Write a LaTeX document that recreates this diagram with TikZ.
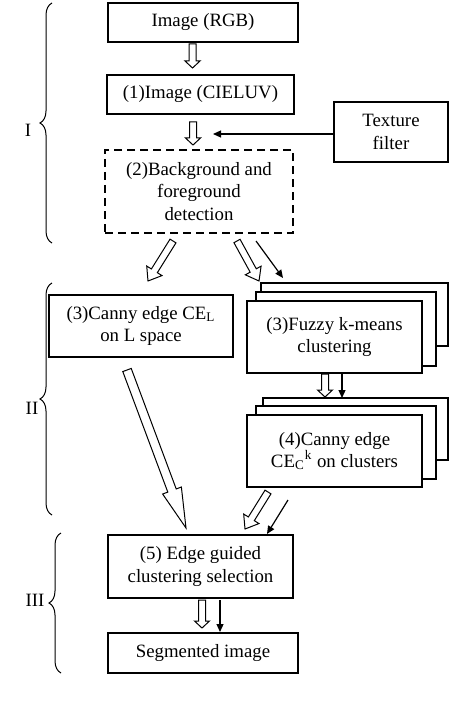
\documentclass[tikz,border=0pt]{standalone}
\usepackage{fontspec}
\setmainfont{Liberation Serif}
\usetikzlibrary{calc,arrows.meta,decorations.pathreplacing}

\tikzset{
    box/.style={draw, fill=white, line width=0.6pt, inner sep=0pt, align=center,
        font=\fontsize{9.4}{11.2}\selectfont},
    hollow/.style n args={3}{draw, fill=white, line width=0.5pt, to path={
        ($(\tikztostart)!#1!90:(\tikztotarget)$)
        -- ($(\tikztotarget)!#3!(\tikztostart)!#1!90:(\tikztotarget)$)
        -- ($(\tikztotarget)!#3!(\tikztostart)!#2!90:(\tikztotarget)$)
        -- (\tikztotarget)
        -- ($(\tikztotarget)!#3!(\tikztostart)!#2!-90:(\tikztotarget)$)
        -- ($(\tikztotarget)!#3!(\tikztostart)!#1!-90:(\tikztotarget)$)
        -- ($(\tikztostart)!#1!-90:(\tikztotarget)$) -- cycle}},
    pointer/.style={draw, line width=0.6pt, -{Triangle[length=4pt,width=3.5pt]}},
    bracket/.style={draw, line width=0.5pt, decorate, decoration={brace, amplitude=6pt}},
    stagelabel/.style={font=\fontsize{9.4}{11.2}\selectfont}
}

\begin{document}
\begin{tikzpicture}[x=0.5pt, y=-0.5pt]
            \useasboundingbox (0,0) rectangle (474,701);

            \coordinate (h1s) at (192.5,44);
            \coordinate (h1e) at (192.5,68);
            \coordinate (h2s) at (193,122);
            \coordinate (h2e) at (193,145);
            \coordinate (texend) at (213,134);
            \coordinate (d1s) at (173,241);
            \coordinate (d1e) at (148,281);
            \coordinate (d2s) at (237,241);
            \coordinate (d2e) at (259,281);
            \coordinate (t1s) at (256,241);
            \coordinate (t1e) at (283,278);
            \coordinate (ls) at (127,370);
            \coordinate (le) at (186,528);
            \coordinate (h3s) at (325,374);
            \coordinate (h3e) at (325,397);
            \coordinate (t3s) at (342,374);
            \coordinate (t3e) at (342,398);
            \coordinate (d3s) at (268,492);
            \coordinate (d3e) at (245,529);
            \coordinate (t4s) at (288,500);
            \coordinate (t4e) at (267,534);
            \coordinate (h4s) at (202,600);
            \coordinate (h4e) at (202,628);
            \coordinate (t5s) at (220,600);
            \coordinate (t5e) at (220,632);

            \node[box, minimum width=95pt, minimum height=19.5pt] (rgb) at (203,22.5) {Image (RGB)};
            \node[box, minimum width=93.5pt, minimum height=19.5pt] (luv) at (200.5,94.5) {(1)Image (CIELUV)};
            \node[box, minimum width=57pt, minimum height=30pt] (tex) at (391,132) {Texture\\filter};
            \node[box, dash pattern=on 4pt off 2.5pt, minimum width=94pt, minimum height=41.5pt] (bg) at (199,191.5) {(2)Background and\\foreground\\detection};

            \node[box, minimum width=92pt, minimum height=31pt] (canny) at (141,326) {(3)Canny edge CE\textsubscript{L}\\on L space};

            \node[box, minimum width=93.5pt, minimum height=31.5pt] (fuzzy3) at (354.5,314.5) {};
            \node[box, minimum width=90pt, minimum height=37pt] (fuzzy2) at (346,329) {};
            \node[box, minimum width=87.5pt, minimum height=36pt] (fuzzy) at (334.5,337) {(3)Fuzzy k-means\\clustering};

            \node[box, minimum width=92.5pt, minimum height=31pt] (cec3) at (355.5,429) {};
            \node[box, minimum width=90pt, minimum height=36.5pt] (cec2) at (346,442.5) {};
            \node[box, minimum width=87.5pt, minimum height=36pt] (cec) at (334.5,451) {(4)Canny edge\\CE\textsubscript{C}\textsuperscript{k} on clusters};

            \node[box, minimum width=92.5pt, minimum height=31.5pt] (sel) at (200.5,566.5) {(5) Edge guided\\clustering selection};
            \node[box, minimum width=95pt, minimum height=20pt] (seg) at (203,653) {Segmented image};

            \draw[hollow={1.75pt}{3.75pt}{3.5pt}] (h1s) to (h1e);
            \draw[hollow={1.75pt}{3.75pt}{3.5pt}] (h2s) to (h2e);
            \draw[pointer] (tex.west |- texend) -- (texend);

            \draw[hollow={1.75pt}{4.5pt}{6pt}] (d1s) to (d1e);
            \draw[hollow={1.75pt}{4.5pt}{6pt}] (d2s) to (d2e);
            \draw[pointer] (t1s) -- (t1e);

            \draw[hollow={2.25pt}{5pt}{20pt}] (ls) to (le);
            \draw[hollow={1.75pt}{3.75pt}{3.5pt}] (h3s) to (h3e);
            \draw[pointer] (t3s) -- (t3e);

            \draw[hollow={1.75pt}{4.5pt}{6pt}] (d3s) to (d3e);
            \draw[pointer] (t4s) -- (t4e);

            \draw[hollow={1.75pt}{3.75pt}{3.5pt}] (h4s) to (h4e);
            \draw[pointer] (t5s) -- (t5e);

            \draw[bracket] (52,243) -- (52,3);
            \draw[bracket] (52,515) -- (52,283);
            \draw[bracket] (61,673) -- (61,533);

            \node[stagelabel] (s1) at (28,130) {I};
            \node[stagelabel] (s2) at (32,408) {II};
            \node[stagelabel] (s3) at (35,600) {III};
        \end{tikzpicture}
\end{document}
